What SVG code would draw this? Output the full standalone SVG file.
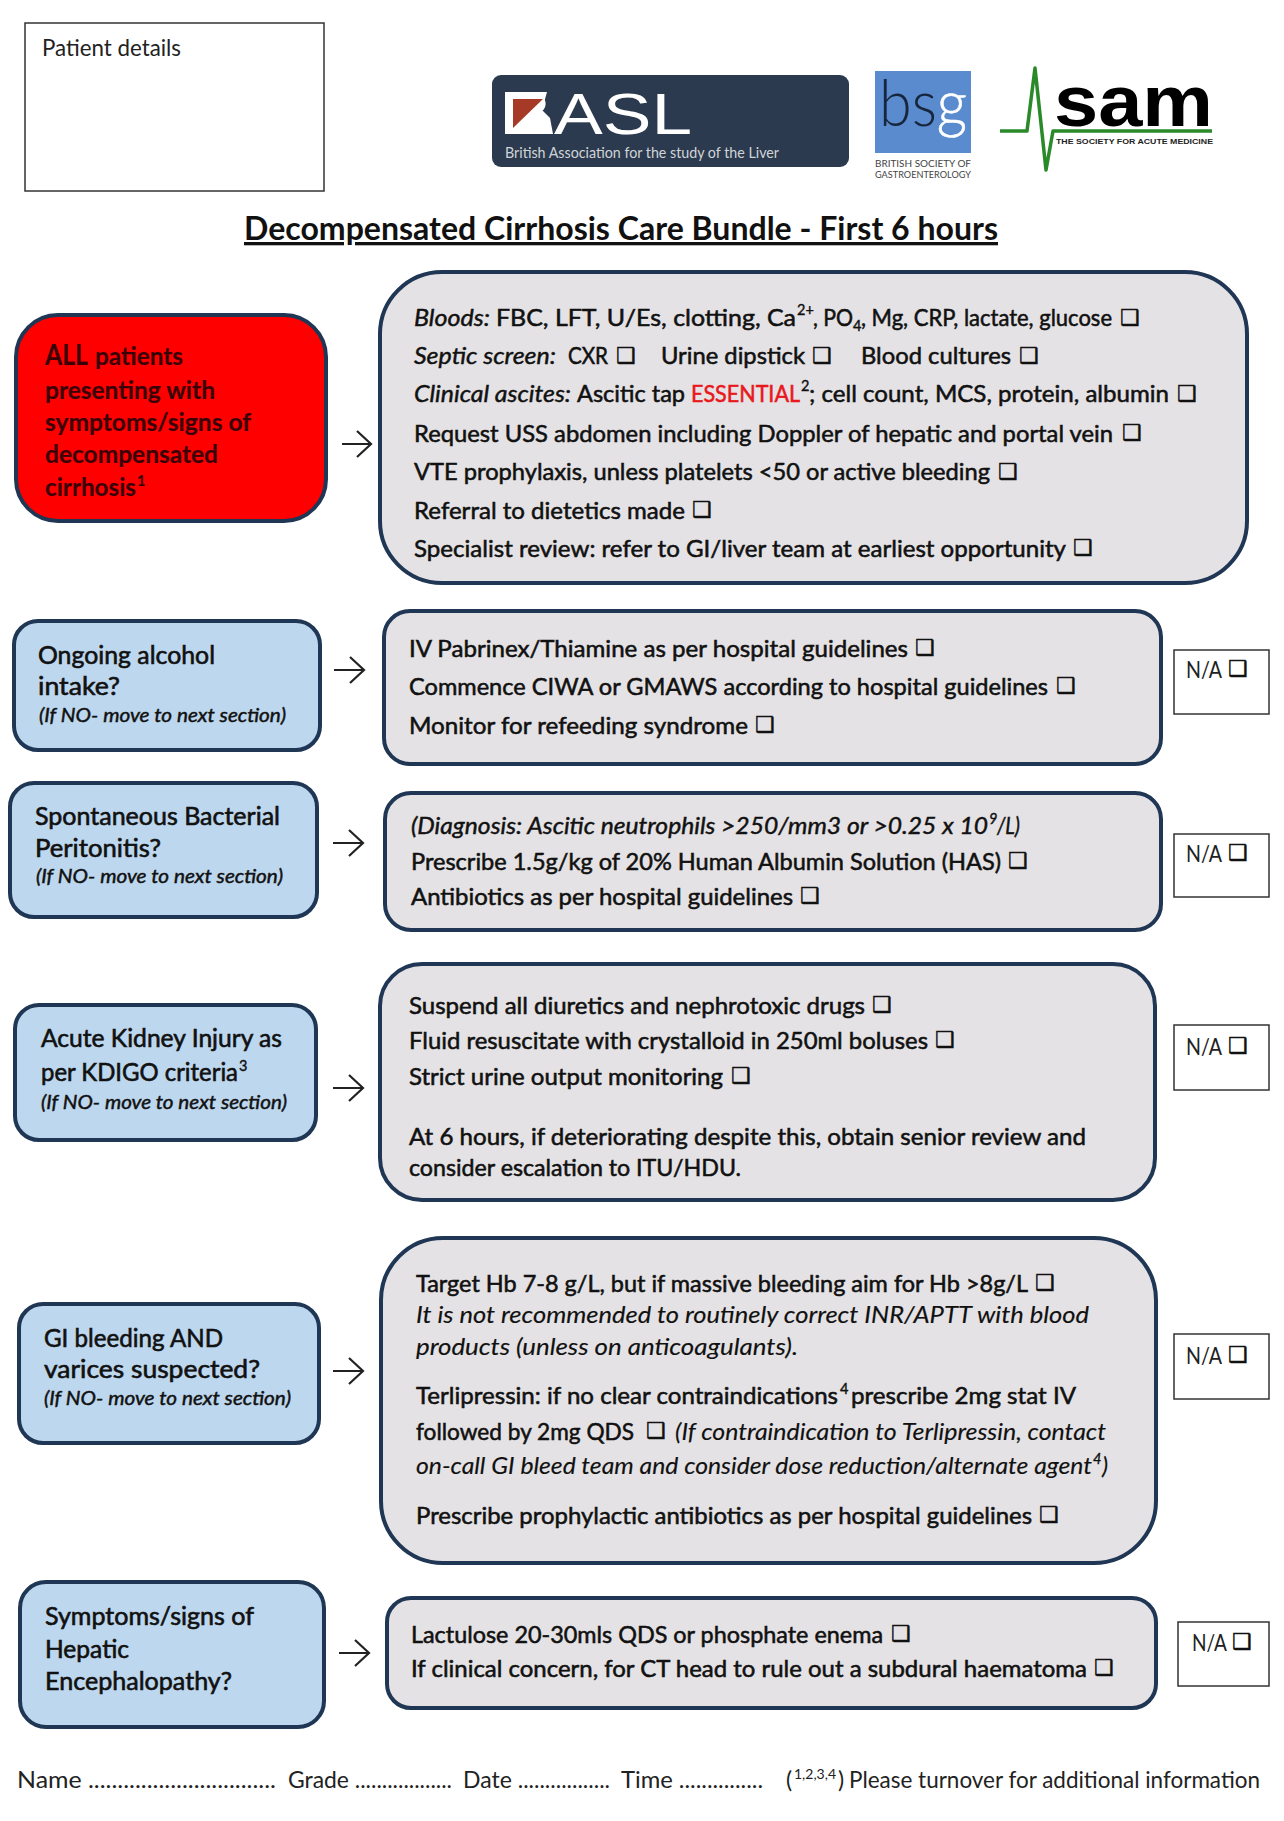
<svg xmlns="http://www.w3.org/2000/svg" width="1284" height="1821" viewBox="0 0 1284 1821">
<style>
text{font-family:Lato,"Open Sans","Liberation Sans",sans-serif;fill:#111}
.t{font-size:23.5px;stroke:#111;stroke-width:.55px}
.l{font-size:24.5px;stroke:#111;stroke-width:.6px}
.i{font-size:23.5px;font-style:italic;stroke:#111;stroke-width:.15px}
.ib{font-size:23.5px;font-style:italic;stroke:#111;stroke-width:.45px}
.n{font-size:19px;font-style:italic;stroke:#111;stroke-width:.45px}
.p{font-size:23px;fill:#222}
.s{font-size:14.5px;stroke:#111;stroke-width:.4px}
.c{font-family:"DejaVu Sans",sans-serif;font-size:22px;text-anchor:middle;fill:#111;stroke:#111;stroke-width:.5px}
.r{stroke:#1f3654;stroke-width:4;fill:#e4e2e4}
.b{stroke:#1f3654;stroke-width:4;fill:#bdd7ee}
.x{stroke:#333;stroke-width:1.5;fill:#fff}
.a{fill:none;stroke:#222;stroke-width:2.2}
.rd text{fill:#3a0008;stroke:#3a0008;font-weight:bold;stroke-width:.15px}
</style>
<g id="patient-details"><rect class="x" x="25" y="23" width="299" height="168"/><text class="p" x="42" y="56" textLength="139" lengthAdjust="spacingAndGlyphs">Patient details</text></g>
<g id="logo-basl"><rect x="492" y="75" width="357" height="92" rx="9" fill="#2b3a4e"/><text x="505" y="134" textLength="46" lengthAdjust="spacingAndGlyphs" style="font-family:'Liberation Sans',sans-serif;font-weight:bold;font-size:58px;fill:#fff">B</text><polygon points="505,92 547,92 542,110 550,118 553,134 505,134" fill="#fff"/><polygon points="513,99 543,99 513,128" fill="#a63a26"/><text x="554" y="134" textLength="138" lengthAdjust="spacingAndGlyphs" style="font-family:'Liberation Sans',sans-serif;font-size:58px;fill:#fff">ASL</text><text x="505" y="158" textLength="274" lengthAdjust="spacingAndGlyphs" style="font-size:15px;fill:#d0d4d8">British Association for the study of the Liver</text></g>
<g id="logo-bsg"><rect x="875" y="71" width="96" height="82" fill="#5b8bcf"/><text x="879" y="126" textLength="88" lengthAdjust="spacingAndGlyphs" style="font-size:66px;font-weight:300;fill:#17263c">bs<tspan style="fill:#fff;stroke:#fff;stroke-width:.6px">g</tspan></text><text x="875" y="167" textLength="96" lengthAdjust="spacingAndGlyphs" style="font-size:10px;fill:#444">BRITISH SOCIETY OF</text><text x="875" y="178" textLength="96" lengthAdjust="spacingAndGlyphs" style="font-size:10px;fill:#444">GASTROENTEROLOGY</text></g>
<g id="logo-sam"><polyline points="1000,131 1027,131 1035,68 1046,170 1053,131 1212,131" fill="none" stroke="#2a8a2a" stroke-width="3.5" stroke-linejoin="round"/><text x="1054" y="126" textLength="159" lengthAdjust="spacingAndGlyphs" style="font-family:'Liberation Sans',sans-serif;font-size:72px;font-weight:bold;fill:#000">sam</text><text x="1056" y="144" textLength="157" lengthAdjust="spacingAndGlyphs" style="font-family:'Liberation Sans',sans-serif;font-size:7.5px;font-weight:bold;fill:#222">THE SOCIETY FOR ACUTE MEDICINE</text></g>
<g id="title"><text x="244" y="240" textLength="754" lengthAdjust="spacingAndGlyphs" style="font-size:33px;font-weight:bold;text-decoration:underline">Decompensated Cirrhosis Care Bundle - First 6 hours</text></g>

<g id="connectors">
<path class="a" d="M342 444H370M357 431L371 444L357 457"/>
<path class="a" d="M334 670H363M350 657L364 670L350 683"/>
<path class="a" d="M333 843H362M349 830L363 843L349 856"/>
<path class="a" d="M333 1088H362M349 1075L363 1088L349 1101"/>
<path class="a" d="M333 1371H362M349 1358L363 1371L349 1384"/>
<path class="a" d="M339 1653H368M355 1640L369 1653L355 1666"/>
</g>

<g id="node-all-patients" class="rd"><rect x="16" y="315" width="310" height="206" rx="42" fill="#ff0000" stroke="#1f3654" stroke-width="4"/>
<text class="l" x="45" y="365" style="font-size:28px" textLength="43" lengthAdjust="spacingAndGlyphs">ALL</text><text class="l" x="95" y="365" textLength="88" lengthAdjust="spacingAndGlyphs">patients</text>
<text class="l" x="45" y="399" textLength="170" lengthAdjust="spacingAndGlyphs">presenting with</text>
<text class="l" x="45" y="431" textLength="206" lengthAdjust="spacingAndGlyphs">symptoms/signs of</text>
<text class="l" x="45" y="463" textLength="173" lengthAdjust="spacingAndGlyphs">decompensated</text>
<text class="l" x="45" y="496" textLength="91" lengthAdjust="spacingAndGlyphs">cirrhosis</text><text class="s" x="137" y="486">1</text></g>
<g id="node-all-actions"><rect class="r" x="380" y="272" width="867" height="311" rx="62"/>
<text class="ib" x="414" y="326" textLength="76" lengthAdjust="spacingAndGlyphs">Bloods:</text><text class="t" x="496" y="326" textLength="300" lengthAdjust="spacingAndGlyphs">FBC, LFT, U/Es, clotting, Ca</text><text class="s" x="797" y="315">2+</text><text class="t" x="813" y="326" textLength="40" lengthAdjust="spacingAndGlyphs">, PO</text><text class="s" x="853" y="331">4</text><text class="t" x="861" y="326" textLength="251" lengthAdjust="spacingAndGlyphs">, Mg, CRP, lactate, glucose</text><text class="c" x="1130" y="325">❑</text>
<text class="ib" x="414" y="364" textLength="142" lengthAdjust="spacingAndGlyphs">Septic screen:</text><text class="t" x="568" y="364" textLength="40" lengthAdjust="spacingAndGlyphs">CXR</text><text class="c" x="626" y="363">❑</text><text class="t" x="661" y="364" textLength="144" lengthAdjust="spacingAndGlyphs">Urine dipstick</text><text class="c" x="822" y="363">❑</text><text class="t" x="861" y="364" textLength="150" lengthAdjust="spacingAndGlyphs">Blood cultures</text><text class="c" x="1029" y="363">❑</text>
<text class="ib" x="414" y="402" textLength="157" lengthAdjust="spacingAndGlyphs">Clinical ascites:</text><text class="t" x="577" y="402" textLength="108" lengthAdjust="spacingAndGlyphs">Ascitic tap</text><text class="t" x="691" y="402" textLength="109" lengthAdjust="spacingAndGlyphs" style="fill:#e8181c;stroke:#e8181c">ESSENTIAL</text><text class="s" x="801" y="391">2</text><text class="t" x="809" y="402" textLength="360" lengthAdjust="spacingAndGlyphs">; cell count, MCS, protein, albumin</text><text class="c" x="1187" y="401">❑</text>
<text class="t" x="414" y="442" textLength="699" lengthAdjust="spacingAndGlyphs">Request USS abdomen including Doppler of hepatic and portal vein</text><text class="c" x="1132" y="440">❑</text>
<text class="t" x="414" y="480" textLength="576" lengthAdjust="spacingAndGlyphs">VTE prophylaxis, unless platelets &lt;50 or active bleeding</text><text class="c" x="1008" y="479">❑</text>
<text class="t" x="414" y="519" textLength="271" lengthAdjust="spacingAndGlyphs">Referral to dietetics made</text><text class="c" x="702" y="517">❑</text>
<text class="t" x="414" y="557" textLength="652" lengthAdjust="spacingAndGlyphs">Specialist review: refer to GI/liver team at earliest opportunity</text><text class="c" x="1083" y="555">❑</text></g>

<g id="node-alcohol"><rect class="b" x="14" y="621" width="306" height="129" rx="24"/>
<text class="l" x="38" y="664" textLength="177" lengthAdjust="spacingAndGlyphs">Ongoing alcohol</text><text class="l" x="38" y="695" textLength="82" lengthAdjust="spacingAndGlyphs">intake?</text><text class="n" x="39" y="722" textLength="247" lengthAdjust="spacingAndGlyphs">(If NO- move to next section)</text></g>
<g id="node-alcohol-actions"><rect class="r" x="384" y="611" width="777" height="153" rx="26"/>
<text class="t" x="409" y="657" textLength="499" lengthAdjust="spacingAndGlyphs">IV Pabrinex/Thiamine as per hospital guidelines</text><text class="c" x="925" y="655">❑</text>
<text class="t" x="409" y="695" textLength="639" lengthAdjust="spacingAndGlyphs">Commence CIWA or GMAWS according to hospital guidelines</text><text class="c" x="1066" y="693">❑</text>
<text class="t" x="409" y="734" textLength="339" lengthAdjust="spacingAndGlyphs">Monitor for refeeding syndrome</text><text class="c" x="765" y="732">❑</text></g>
<g id="na-alcohol"><rect class="x" x="1174" y="650" width="95" height="64"/><text class="p" x="1186" y="678" textLength="36" lengthAdjust="spacingAndGlyphs">N/A</text><text class="c" x="1238" y="676">❑</text></g>

<g id="node-sbp"><rect class="b" x="10" y="783" width="307" height="134" rx="24"/>
<text class="l" x="35" y="825" textLength="245" lengthAdjust="spacingAndGlyphs">Spontaneous Bacterial</text><text class="l" x="35" y="857" textLength="126" lengthAdjust="spacingAndGlyphs">Peritonitis?</text><text class="n" x="36" y="883" textLength="247" lengthAdjust="spacingAndGlyphs">(If NO- move to next section)</text></g>
<g id="node-sbp-actions"><rect class="r" x="385" y="793" width="776" height="137" rx="26"/>
<text class="ib" x="411" y="834" textLength="577" lengthAdjust="spacingAndGlyphs">(Diagnosis: Ascitic neutrophils &gt;250/mm3 or &gt;0.25 x 10</text><text class="s" x="989" y="824" style="font-style:italic">9</text><text class="ib" x="997" y="834" textLength="23" lengthAdjust="spacingAndGlyphs">/L)</text>
<text class="t" x="411" y="870" textLength="590" lengthAdjust="spacingAndGlyphs">Prescribe 1.5g/kg of 20% Human Albumin Solution (HAS)</text><text class="c" x="1018" y="868">❑</text>
<text class="t" x="411" y="905" textLength="382" lengthAdjust="spacingAndGlyphs">Antibiotics as per hospital guidelines</text><text class="c" x="810" y="903">❑</text></g>
<g id="na-sbp"><rect class="x" x="1174" y="834" width="95" height="63"/><text class="p" x="1186" y="862" textLength="36" lengthAdjust="spacingAndGlyphs">N/A</text><text class="c" x="1238" y="860">❑</text></g>

<g id="node-aki"><rect class="b" x="15" y="1005" width="301" height="135" rx="24"/>
<text class="l" x="41" y="1047" textLength="241" lengthAdjust="spacingAndGlyphs">Acute Kidney Injury as</text><text class="l" x="41" y="1081" textLength="197" lengthAdjust="spacingAndGlyphs">per KDIGO criteria</text><text class="s" x="239" y="1071">3</text><text class="n" x="41" y="1109" textLength="246" lengthAdjust="spacingAndGlyphs">(If NO- move to next section)</text></g>
<g id="node-aki-actions"><rect class="r" x="380" y="964" width="775" height="236" rx="42"/>
<text class="t" x="409" y="1014" textLength="456" lengthAdjust="spacingAndGlyphs">Suspend all diuretics and nephrotoxic drugs</text><text class="c" x="882" y="1012">❑</text>
<text class="t" x="409" y="1049" textLength="519" lengthAdjust="spacingAndGlyphs">Fluid resuscitate with crystalloid in 250ml boluses</text><text class="c" x="945" y="1047">❑</text>
<text class="t" x="409" y="1085" textLength="314" lengthAdjust="spacingAndGlyphs">Strict urine output monitoring</text><text class="c" x="741" y="1083">❑</text>
<text class="t" x="409" y="1145" textLength="677" lengthAdjust="spacingAndGlyphs">At 6 hours, if deteriorating despite this, obtain senior review and</text>
<text class="t" x="409" y="1176" textLength="332" lengthAdjust="spacingAndGlyphs">consider escalation to ITU/HDU.</text></g>
<g id="na-aki"><rect class="x" x="1174" y="1025" width="95" height="65"/><text class="p" x="1186" y="1055" textLength="36" lengthAdjust="spacingAndGlyphs">N/A</text><text class="c" x="1238" y="1053">❑</text></g>

<g id="node-gi"><rect class="b" x="19" y="1304" width="300" height="139" rx="24"/>
<text class="l" x="44" y="1347" textLength="179" lengthAdjust="spacingAndGlyphs">GI bleeding AND</text><text class="l" x="44" y="1378" textLength="216" lengthAdjust="spacingAndGlyphs">varices suspected?</text><text class="n" x="44" y="1405" textLength="247" lengthAdjust="spacingAndGlyphs">(If NO- move to next section)</text></g>
<g id="node-gi-actions"><rect class="r" x="381" y="1238" width="775" height="325" rx="62"/>
<text class="t" x="416" y="1292" textLength="612" lengthAdjust="spacingAndGlyphs">Target Hb 7-8 g/L, but if massive bleeding aim for Hb &gt;8g/L</text><text class="c" x="1045" y="1290">❑</text>
<text class="i" x="416" y="1323" textLength="673" lengthAdjust="spacingAndGlyphs">It is not recommended to routinely correct INR/APTT with blood</text>
<text class="i" x="416" y="1355" textLength="382" lengthAdjust="spacingAndGlyphs">products (unless on anticoagulants).</text>
<text class="t" x="416" y="1404" textLength="422" lengthAdjust="spacingAndGlyphs">Terlipressin: if no clear contraindications</text><text class="s" x="840" y="1394">4</text><text class="t" x="851" y="1404" textLength="225" lengthAdjust="spacingAndGlyphs">prescribe 2mg stat IV</text>
<text class="t" x="416" y="1440" textLength="218" lengthAdjust="spacingAndGlyphs">followed by 2mg QDS</text><text class="c" x="656" y="1438">❑</text><text class="i" x="675" y="1440" textLength="431" lengthAdjust="spacingAndGlyphs">(If contraindication to Terlipressin, contact</text>
<text class="i" x="416" y="1474" textLength="676" lengthAdjust="spacingAndGlyphs">on-call GI bleed team and consider dose reduction/alternate agent</text><text class="s" x="1093" y="1464" style="font-style:italic">4</text><text class="i" x="1102" y="1474">)</text>
<text class="t" x="416" y="1524" textLength="616" lengthAdjust="spacingAndGlyphs">Prescribe prophylactic antibiotics as per hospital guidelines</text><text class="c" x="1049" y="1522">❑</text></g>
<g id="na-gi"><rect class="x" x="1174" y="1334" width="95" height="65"/><text class="p" x="1186" y="1364" textLength="36" lengthAdjust="spacingAndGlyphs">N/A</text><text class="c" x="1238" y="1362">❑</text></g>

<g id="node-he"><rect class="b" x="20" y="1582" width="304" height="145" rx="26"/>
<text class="l" x="45" y="1625" textLength="209" lengthAdjust="spacingAndGlyphs">Symptoms/signs of</text><text class="l" x="45" y="1658" textLength="84" lengthAdjust="spacingAndGlyphs">Hepatic</text><text class="l" x="45" y="1690" textLength="187" lengthAdjust="spacingAndGlyphs">Encephalopathy?</text></g>
<g id="node-he-actions"><rect class="r" x="387" y="1598" width="769" height="110" rx="24"/>
<text class="t" x="411" y="1643" textLength="472" lengthAdjust="spacingAndGlyphs">Lactulose 20-30mls QDS or phosphate enema</text><text class="c" x="901" y="1641">❑</text>
<text class="t" x="411" y="1677" textLength="676" lengthAdjust="spacingAndGlyphs">If clinical concern, for CT head to rule out a subdural haematoma</text><text class="c" x="1104" y="1675">❑</text></g>
<g id="na-he"><rect class="x" x="1178" y="1622" width="91" height="64"/><text class="p" x="1192" y="1651" textLength="35" lengthAdjust="spacingAndGlyphs">N/A</text><text class="c" x="1242" y="1649">❑</text></g>

<g id="footer">
<text class="p" x="17" y="1788" textLength="259" lengthAdjust="spacingAndGlyphs">Name ................................</text>
<text class="p" x="288" y="1788" textLength="164" lengthAdjust="spacingAndGlyphs">Grade ..................</text>
<text class="p" x="463" y="1788" textLength="147" lengthAdjust="spacingAndGlyphs">Date .................</text>
<text class="p" x="621" y="1788" textLength="142" lengthAdjust="spacingAndGlyphs">Time ...............</text>
<text class="p" x="786" y="1788">(</text><text class="p" x="794" y="1779" style="font-size:13px" textLength="42" lengthAdjust="spacingAndGlyphs">1,2,3,4</text><text class="p" x="838" y="1788">)</text>
<text class="p" x="849" y="1788" textLength="411" lengthAdjust="spacingAndGlyphs">Please turnover for additional information</text></g>
</svg>
